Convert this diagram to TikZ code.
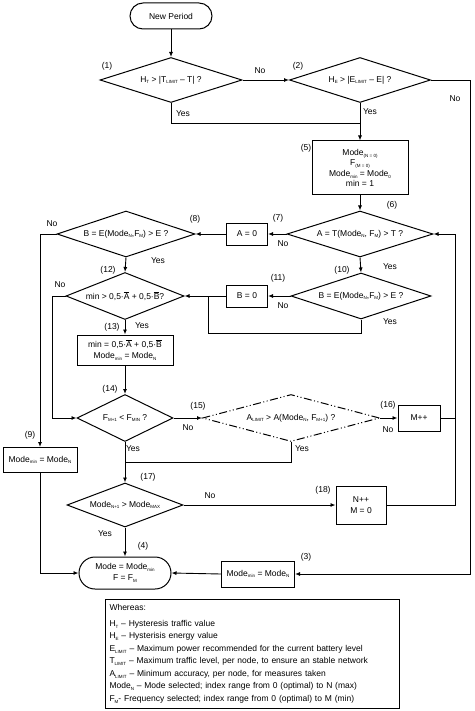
\documentclass[tikz,border=0pt]{standalone}
\usepackage{fontspec}
\setmainfont{Liberation Sans}
\usetikzlibrary{arrows.meta, shapes.geometric}
\newcommand{\lo}[1]{\raisebox{-1.8pt}{\fontsize{4.5}{5}\selectfont #1}}
\newcommand{\ovl}[1]{$\overline{\mbox{#1}}$}

\begin{document}
\begin{tikzpicture}[
    x=1pt, y=-1pt,
    font=\fontsize{8.5}{10.5}\selectfont,
    box/.style={draw, rectangle, align=center, line width=1pt, inner sep=1pt},
    decision/.style={draw, diamond, aspect=#1, align=center, line width=1pt, inner sep=0pt},
    term/.style={draw, rectangle, rounded corners=#1, align=center, line width=1pt, inner sep=1pt},
    lbl/.style={inner sep=0pt},
    arrow/.style={-{Latex[length=5pt,width=4pt]}, line width=0.9pt},
    link/.style={line width=0.9pt}
]
\useasboundingbox (0,0) rectangle (474,711);

\node (newperiod) [term=13pt, minimum width=82pt, minimum height=26pt] at (171,16) {New Period};
\node (q1) [decision=3.16, minimum width=142pt, minimum height=45pt] at (171,80) {H\lo{T} > |T\lo{LIMIT} -- T| ?};
\node (q2) [decision=3.13, minimum width=141pt, minimum height=45pt] at (360,80) {H\lo{E} > |E\lo{LIMIT} -- E| ?};
\node (init) [box, minimum width=96pt, minimum height=54pt] at (360,168) {Mode\lo{(N = 0)}\\F\lo{(M = 0)}\\Mode\lo{min} = Mode\lo{0}\\min = 1};
\node (q6) [decision=3.17, minimum width=146pt, minimum height=46pt] at (360,234) {A = T(Mode\lo{N}, F\lo{M}) > T ?};
\node (aZero) [box, minimum width=41pt, minimum height=22pt] at (247,234) {A = 0};
\node (q8) [decision=3.0, minimum width=138pt, minimum height=46pt] at (126,234) {B = E(Mode\lo{N},F\lo{M}) > E ?};
\node (q10) [decision=3.04, minimum width=140pt, minimum height=46pt] at (361,296) {B = E(Mode\lo{N},F\lo{M}) > E ?};
\node (bZero) [box, minimum width=41pt, minimum height=22pt] at (247,296) {B = 0};
\node (q12) [decision=2.51, minimum width=118pt, minimum height=47pt] at (125,296) {min > 0,5·\ovl{A} + 0,5·\ovl{B}?};
\node (update) [box, minimum width=96pt, minimum height=30pt] at (125,350) {min = 0,5·\ovl{A} + 0,5·\ovl{B}\\Mode\lo{min} = Mode\lo{N}};
\node (q14) [decision=2.04, minimum width=96pt, minimum height=47pt] at (125,418) {F\lo{M+1} < F\lo{MIN} ?};
\node (q15) [decision=3.77, dash pattern=on 8pt off 2.5pt on 1pt off 2.5pt on 1pt off 2.5pt, minimum width=177pt, minimum height=47pt] at (291,418) {A\lo{LIMIT} > A(Mode\lo{N}, F\lo{M+1}) ?};
\node (mInc) [box, minimum width=42pt, minimum height=26pt] at (419,418) {M++};
\node (q17) [decision=2.64, minimum width=116pt, minimum height=44pt] at (125,505) {Mode\lo{N+1} > Mode\lo{MAX}};
\node (nInc) [box, minimum width=50pt, minimum height=38pt] at (361,505) {N++\\M = 0};
\node (setMode) [box, minimum width=74pt, minimum height=25pt] at (40,460) {Mode\lo{min} = Mode\lo{N}};
\node (setModeN) [box, minimum width=73pt, minimum height=26pt] at (258,574) {Mode\lo{min} = Mode\lo{N}};
\node (stop) [term=16pt, minimum width=92pt, minimum height=32pt] at (125,573) {Mode = Mode\lo{min}\\F = F\lo{M}};
\node (legend) [draw, line width=1pt, anchor=north west, text width=286pt, minimum height=109pt, inner sep=4pt, align=left, font=\fontsize{8.5}{12.5}\selectfont] at (105,599) {Whereas:\\[3pt]
H\lo{T} -- Hysteresis traffic value\\
H\lo{E} -- Hysterisis energy value\\
E\lo{LIMIT} -- Maximum power recommended for the current battery level\\
T\lo{LIMIT} -- Maximum traffic level, per node, to ensure an stable network\\
A\lo{LIMIT} -- Minimum accuracy, per node, for measures taken\\
Mode\lo{N} -- Mode selected; index range from 0 (optimal) to N (max)\\
F\lo{M}- Frequency selected; index range from 0 (optimal) to M (min)};

\node (n1) [lbl] at (107,66) {(1)};
\node (n2) [lbl] at (298,66) {(2)};
\node (n3) [lbl] at (306,557) {(3)};
\node (n4) [lbl] at (143,546) {(4)};
\node (n5) [lbl] at (306,148) {(5)};
\node (n6) [lbl] at (392,205) {(6)};
\node (n7) [lbl] at (278,218) {(7)};
\node (n8) [lbl] at (195,219) {(8)};
\node (n9) [lbl] at (30,435) {(9)};
\node (n10) [lbl] at (342,270) {(10)};
\node (n11) [lbl] at (278,278) {(11)};
\node (n12) [lbl] at (108,270) {(12)};
\node (n13) [lbl] at (112,327) {(13)};
\node (n14) [lbl] at (110,389) {(14)};
\node (n15) [lbl] at (198,406) {(15)};
\node (n16) [lbl] at (388,405) {(16)};
\node (n17) [lbl] at (148,477) {(17)};
\node (n18) [lbl] at (323,490) {(18)};

\node (no1) [lbl] at (260,71) {No};
\node (yes1) [lbl] at (183,114) {Yes};
\node (yes2) [lbl] at (370,112) {Yes};
\node (no2) [lbl] at (455,99) {No};
\node (no6) [lbl] at (283,244) {No};
\node (no8) [lbl] at (52,224) {No};
\node (yes8) [lbl] at (158,261) {Yes};
\node (yes6) [lbl] at (390,267) {Yes};
\node (no12) [lbl] at (60,285) {No};
\node (no10) [lbl] at (283,306) {No};
\node (yes10) [lbl] at (390,322) {Yes};
\node (yes12) [lbl] at (142,326) {Yes};
\node (no14) [lbl] at (188,428) {No};
\node (no15) [lbl] at (388,430) {No};
\node (yes14) [lbl] at (133,449) {Yes};
\node (yes15) [lbl] at (302,449) {Yes};
\node (no17) [lbl] at (210,496) {No};
\node (yes17) [lbl] at (105,534) {Yes};

\coordinate (join1) at (360,123);
\coordinate (railR) at (470,574);
\coordinate (loopR) at (455,234);
\coordinate (join2) at (208,333);
\coordinate (railL) at (52,418);
\coordinate (join3) at (125,462);

\draw[arrow] (newperiod) -- (q1);
\draw[arrow] (q1.east) -- (q2.west);
\draw[link] (q1.south) |- (join1);
\draw[arrow] (q2.south) -- (init.north);
\draw[arrow] (q2.east) -| (railR) -- (setModeN.east);
\draw[arrow] (init) -- (q6);
\draw[arrow] (q6.west) -- (aZero.east);
\draw[arrow] (aZero.west) -- (q8.east);
\draw[arrow] (q8.west) -| (setMode.north);
\draw[arrow] (q8.south) -- (q12.north);
\draw[arrow] (q6.south) -- (q10.north);
\draw[arrow] (q10.west) -- (bZero.east);
\draw[arrow] (bZero.west) -- (q12.east);
\draw[link] (q10.south) |- (join2) -- (join2 |- q12.east);
\draw[arrow] (q12.south) -- (update.north);
\draw[arrow] (q12.west) -| (railL) -- (q14.west);
\draw[arrow] (update) -- (q14);
\draw[arrow] (q14.east) -- (q15.west);
\draw[arrow] (q15.east) -- (mInc.west);
\draw[arrow] (mInc.east) -| (loopR) -- (q6.east);
\draw[link] (nInc.east) -| (mInc.east -| loopR);
\draw[link] (q15.south) |- (join3);
\draw[arrow] (q14.south) -- (q17.north);
\draw[arrow] (q17.east) -- (nInc.west);
\draw[arrow] (q17.south) -- (stop.north);
\draw[arrow] (setMode.south) |- (stop.west);
\draw[arrow] (setModeN.west) -- (stop.east);

\end{tikzpicture}
\end{document}
